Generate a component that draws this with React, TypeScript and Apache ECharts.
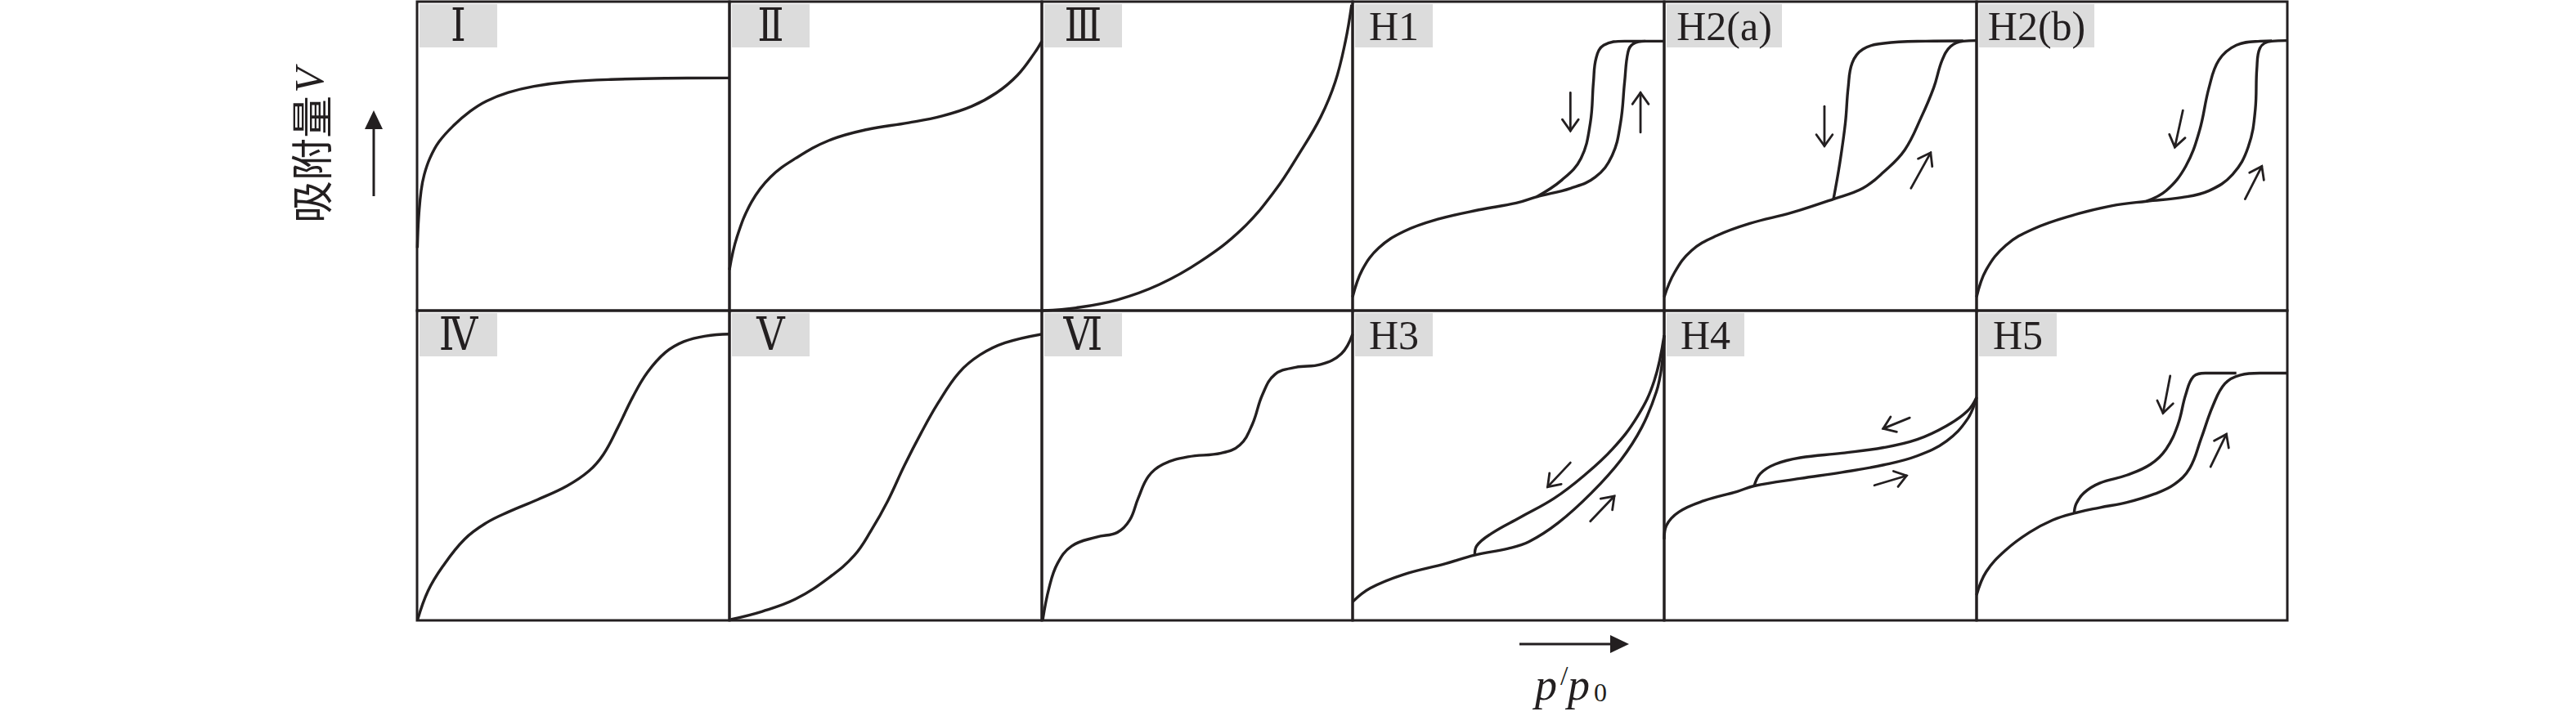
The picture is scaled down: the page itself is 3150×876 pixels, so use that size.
import React, { useEffect, useRef } from "react";
import * as echarts from "echarts";

// ---------- data (normalized p/p0 on x, adsorbed amount on y) ----------
const panelLabels = ["Ⅰ", "Ⅱ", "Ⅲ", "H1", "H2(a)", "H2(b)", "Ⅳ", "Ⅴ", "Ⅵ", "H3", "H4", "H5"];

const typeI = [[0.001,0.203],[0.005,0.3],[0.013,0.388],[0.023,0.44],[0.041,0.493],[0.07,0.546],[0.117,0.599],[0.17,0.645],[0.222,0.678],[0.292,0.706],[0.374,0.726],[0.48,0.74],[0.62,0.748],[0.8,0.752],[1,0.753]];
const typeII = [[0,0.132],[0.024,0.238],[0.071,0.352],[0.131,0.432],[0.212,0.493],[0.319,0.551],[0.44,0.586],[0.574,0.608],[0.681,0.63],[0.775,0.661],[0.855,0.705],[0.922,0.762],[0.976,0.833],[1,0.872]];
const typeIII = [[0.005,0],[0.11,0.009],[0.243,0.035],[0.377,0.084],[0.51,0.159],[0.644,0.264],[0.75,0.388],[0.83,0.511],[0.897,0.626],[0.944,0.74],[0.977,0.872],[0.997,0.99]];
const h1Ads = [[0,0.044],[0.031,0.132],[0.084,0.203],[0.164,0.256],[0.271,0.295],[0.405,0.326],[0.525,0.348],[0.59,0.368],[0.7,0.396],[0.779,0.432],[0.833,0.502],[0.86,0.608],[0.873,0.74],[0.884,0.837],[0.9,0.863],[0.94,0.872],[1,0.872]];
const h1Des = [[0.59,0.368],[0.672,0.423],[0.733,0.493],[0.763,0.608],[0.773,0.74],[0.782,0.819],[0.806,0.859],[0.873,0.872],[0.94,0.872]];
const h2aAds = [[0,0.044],[0.033,0.123],[0.087,0.194],[0.167,0.242],[0.274,0.282],[0.408,0.317],[0.542,0.361],[0.636,0.396],[0.703,0.449],[0.77,0.52],[0.823,0.626],[0.863,0.722],[0.89,0.811],[0.917,0.855],[0.957,0.872],[1,0.874]];
const h2aDes = [[0.542,0.361],[0.562,0.476],[0.58,0.608],[0.589,0.722],[0.602,0.802],[0.636,0.846],[0.703,0.865],[0.837,0.872],[0.957,0.873]];
const h2bAds = [[0,0.044],[0.031,0.132],[0.094,0.211],[0.182,0.264],[0.308,0.308],[0.434,0.339],[0.547,0.354],[0.66,0.366],[0.748,0.388],[0.824,0.441],[0.874,0.529],[0.897,0.652],[0.902,0.784],[0.912,0.85],[0.95,0.872],[1,0.874]];
const h2bDes = [[0.547,0.354],[0.61,0.388],[0.673,0.467],[0.717,0.581],[0.748,0.722],[0.78,0.811],[0.836,0.859],[0.912,0.872],[0.95,0.873]];
const typeIV = [[0.002,0.003],[0.035,0.095],[0.082,0.174],[0.152,0.262],[0.222,0.315],[0.292,0.35],[0.386,0.39],[0.48,0.434],[0.55,0.482],[0.596,0.535],[0.643,0.623],[0.69,0.72],[0.737,0.8],[0.795,0.865],[0.854,0.9],[0.924,0.918],[1,0.924]];
const typeV = [[0.004,0.003],[0.105,0.029],[0.212,0.069],[0.32,0.139],[0.4,0.21],[0.453,0.289],[0.507,0.386],[0.56,0.5],[0.614,0.606],[0.668,0.702],[0.735,0.8],[0.802,0.857],[0.882,0.896],[1,0.924]];
const typeVI = [[0.003,0.003],[0.023,0.104],[0.05,0.183],[0.096,0.24],[0.176,0.269],[0.243,0.284],[0.283,0.324],[0.31,0.394],[0.343,0.465],[0.39,0.504],[0.47,0.528],[0.577,0.54],[0.637,0.566],[0.677,0.632],[0.71,0.729],[0.75,0.794],[0.817,0.817],[0.897,0.826],[0.964,0.861],[1,0.924]];
const h3Ads = [[0,0.06],[0.057,0.104],[0.164,0.148],[0.298,0.183],[0.392,0.211],[0.499,0.232],[0.566,0.254],[0.66,0.315],[0.767,0.412],[0.861,0.518],[0.928,0.623],[0.975,0.738],[0.992,0.82],[1,0.92]];
const h3Des = [[0.392,0.211],[0.398,0.24],[0.445,0.28],[0.539,0.333],[0.647,0.394],[0.74,0.465],[0.834,0.553],[0.914,0.658],[0.968,0.773],[1,0.92]];
const h4Ads = [[0,0.262],[0.007,0.306],[0.047,0.35],[0.127,0.386],[0.234,0.416],[0.288,0.434],[0.435,0.458],[0.569,0.478],[0.703,0.502],[0.81,0.531],[0.904,0.579],[0.971,0.65],[1,0.72]];
const h4Des = [[0.288,0.434],[0.308,0.474],[0.355,0.504],[0.435,0.525],[0.569,0.54],[0.703,0.558],[0.81,0.584],[0.904,0.628],[0.971,0.676],[1,0.72]];
const h5Ads = [[0,0.082],[0.031,0.157],[0.094,0.227],[0.17,0.284],[0.245,0.324],[0.314,0.346],[0.396,0.364],[0.484,0.381],[0.572,0.408],[0.635,0.438],[0.686,0.491],[0.723,0.588],[0.761,0.694],[0.799,0.764],[0.849,0.792],[0.912,0.798],[1,0.798]];
const h5Des = [[0.314,0.346],[0.321,0.377],[0.346,0.412],[0.396,0.443],[0.484,0.469],[0.56,0.504],[0.61,0.553],[0.648,0.632],[0.673,0.729],[0.698,0.787],[0.736,0.798],[0.836,0.798]];

// direction arrows: [x1, y1, x2(tip), y2(tip)]
const h1Arrows = [[0.699,0.705,0.699,0.582],[0.924,0.577,0.924,0.705]];
const h2aArrows = [[0.513,0.661,0.513,0.533],[0.79,0.396,0.853,0.511]];
const h2bArrows = [[0.664,0.648,0.638,0.529],[0.864,0.361,0.918,0.467]];
const h3Arrows = [[0.699,0.509,0.626,0.431],[0.763,0.32,0.84,0.401]];
const h4Arrows = [[0.786,0.654,0.701,0.619],[0.673,0.436,0.776,0.467]];
const h5Arrows = [[0.623,0.789,0.6,0.669],[0.753,0.496,0.804,0.601]];

const panelCurves = [
  [typeI], [typeII], [typeIII], [h1Ads, h1Des], [h2aAds, h2aDes], [h2bAds, h2bDes],
  [typeIV], [typeV], [typeVI], [h3Ads, h3Des], [h4Ads, h4Des], [h5Ads, h5Des],
];
const panelArrows = [[], [], [], h1Arrows, h2aArrows, h2bArrows, [], [], [], h3Arrows, h4Arrows, h5Arrows];

// ---------- layout ----------
const COL_X = [510, 892, 1274, 1654, 2035, 2417, 2797];
const ROW_Y = [2, 380, 759];
const INK = "#231f20";
const BOX = "#dcdcdc";

function buildOption() {
  const grid: any[] = [];
  const xAxis: any[] = [];
  const yAxis: any[] = [];
  const series: any[] = [];
  const graphic: any[] = [];

  panelLabels.forEach((label, i) => {
    const r = Math.floor(i / 6);
    const c = i % 6;
    const left = COL_X[c];
    const top = ROW_Y[r];
    const width = COL_X[c + 1] - COL_X[c];
    const height = ROW_Y[r + 1] - ROW_Y[r];
    grid.push({ left, top, width, height, show: true, borderColor: INK, borderWidth: 3, backgroundColor: "transparent" });
    xAxis.push({ type: "value", gridIndex: i, min: 0, max: 1, show: false });
    yAxis.push({ type: "value", gridIndex: i, min: 0, max: 1, show: false });

    panelCurves[i].forEach((curve) => {
      series.push({
        type: "line",
        xAxisIndex: i,
        yAxisIndex: i,
        data: curve,
        smooth: 0.4,
        symbol: "none",
        lineStyle: { color: INK, width: 3.4 },
        z: 3,
      });
    });

    if (panelArrows[i].length) {
      series.push({
        type: "custom",
        xAxisIndex: i,
        yAxisIndex: i,
        data: panelArrows[i],
        encode: { x: [0, 2], y: [1, 3] },
        z: 4,
        renderItem: (_p: any, api: any) => {
          const p1 = api.coord([api.value(0), api.value(1)]);
          const p2 = api.coord([api.value(2), api.value(3)]);
          const ang = Math.atan2(p2[1] - p1[1], p2[0] - p1[0]);
          const L = 17;
          const a = 0.62;
          const h1 = [p2[0] - L * Math.cos(ang - a), p2[1] - L * Math.sin(ang - a)];
          const h2 = [p2[0] - L * Math.cos(ang + a), p2[1] - L * Math.sin(ang + a)];
          return {
            type: "group",
            children: [
              { type: "line", shape: { x1: p1[0], y1: p1[1], x2: p2[0], y2: p2[1] }, style: { stroke: INK, lineWidth: 2.8, lineCap: "round" } },
              { type: "polyline", shape: { points: [h1, p2, h2] }, style: { stroke: INK, fill: null, lineWidth: 2.8, lineCap: "round", lineJoin: "miter" } },
            ],
          };
        },
      });
    }

    const bw = label.length > 3 ? 141 : 95;
    const roman = !label.startsWith("H");
    graphic.push({
      type: "rect",
      z: 1,
      shape: { x: left + 3, y: top + 3, width: bw, height: 53 },
      style: { fill: BOX },
    });
    graphic.push({
      type: "text",
      z: 2,
      x: left + 3 + bw / 2,
      y: top + (roman ? 29 : 30),
      scaleX: roman ? 0.85 : 1,
      style: {
        text: label,
        fill: INK,
        fontSize: roman ? 56 : 50,
        fontFamily: roman ? '"DejaVu Serif", "Liberation Serif", serif' : '"Liberation Serif", serif',
        align: "center",
        verticalAlign: "middle",
      },
    });
  });

  // y-axis title and arrow
  graphic.push({
    type: "text",
    x: 378,
    y: 178,
    rotation: Math.PI / 2,
    style: {
      text: "{c|吸附量} {v|V}",
      align: "center",
      verticalAlign: "middle",
      fill: INK,
      rich: {
        c: { fontFamily: '"Noto Sans CJK SC", sans-serif', fontSize: 52, fill: INK },
        v: { font: 'italic 50px "Liberation Serif", serif', fontFamily: '"Liberation Serif", serif', fontStyle: "italic", fontSize: 50, fill: INK },
      },
    },
  });
  graphic.push({ type: "line", shape: { x1: 457, y1: 240, x2: 457, y2: 152 }, style: { stroke: INK, lineWidth: 3 } });
  graphic.push({ type: "polygon", shape: { points: [[457, 135], [446, 158], [468, 158]] }, style: { fill: INK } });

  // x-axis title and arrow
  graphic.push({ type: "line", shape: { x1: 1858, y1: 788, x2: 1975, y2: 788 }, style: { stroke: INK, lineWidth: 3 } });
  graphic.push({ type: "polygon", shape: { points: [[1992, 788], [1969, 777], [1969, 799]] }, style: { fill: INK } });
  graphic.push({ type: "text", x: 1877, y: 838, style: { text: "p", fill: INK, fontFamily: '"Liberation Serif", serif', fontStyle: "italic", fontSize: 54, align: "left", verticalAlign: "middle" } });
  graphic.push({ type: "text", x: 1908, y: 826, style: { text: "/", fill: INK, fontFamily: '"Liberation Serif", serif', fontSize: 34, align: "left", verticalAlign: "middle" } });
  graphic.push({ type: "text", x: 1917, y: 838, style: { text: "p", fill: INK, fontFamily: '"Liberation Serif", serif', fontStyle: "italic", fontSize: 54, align: "left", verticalAlign: "middle" } });
  graphic.push({ type: "text", x: 1949, y: 847, style: { text: "0", fill: INK, fontFamily: '"Liberation Serif", serif', fontSize: 32, align: "left", verticalAlign: "middle" } });

  return {
    animation: false,
    backgroundColor: "#ffffff",
    grid,
    xAxis,
    yAxis,
    series,
    graphic,
  };
}

export default function App() {
  const ref = useRef<HTMLDivElement>(null);
  useEffect(() => {
    const chart = echarts.init(ref.current as HTMLDivElement, undefined, { renderer: "svg" });
    chart.setOption(buildOption() as any);
    return () => chart.dispose();
  }, []);
  return (
    <div
      ref={ref}
      style={{ position: "absolute", left: 0, top: 0, width: 3150, height: 876, background: "#fff" }}
    />
  );
}
